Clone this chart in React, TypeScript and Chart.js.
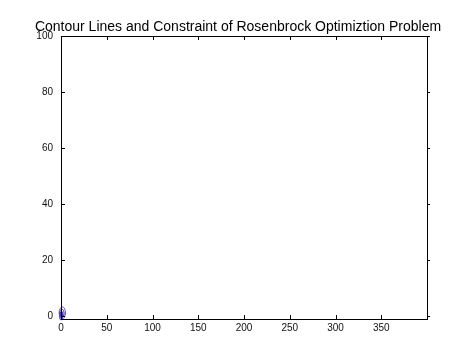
import React, { useEffect, useRef } from "react";
import { Chart, registerables } from "chart.js";

Chart.register(...registerables);

const TITLE = "Contour Lines and Constraint of Rosenbrock Optimiztion Problem";
const X_TICKS = [0, 50, 100, 150, 200, 250, 300, 350];
const Y_TICKS = [0, 20, 40, 60, 80, 100];

// Constraint circle x^2 + y^2 = 2 (approximate points)
const constraintX = [1.41, 1.0, 0, -1.0, -1.41, -1.0, 0, 1.0, 1.41];
const constraintY = [0, 1.0, 1.41, 1.0, 0, -1.0, -1.41, -1.0, 0];

// Rosenbrock contour loops near the minimum (read roughly from the small blob)
const contourAX = [5.0, 3.8, 1.5, -0.8, -2.0, -0.8, 1.5, 3.8, 5.0];
const contourAY = [1.2, 2.8, 3.3, 2.8, 1.2, -0.4, -0.9, -0.4, 1.2];
const contourBX = [3.5, 2.6, 1.0, -0.6, -1.5, -0.6, 1.0, 2.6, 3.5];
const contourBY = [1.0, 2.1, 2.5, 2.1, 1.0, -0.1, -0.5, -0.1, 1.0];
const contourCX = [2.2, 1.6, 0.6, -0.4, -1.0, -0.4, 0.6, 1.6, 2.2];
const contourCY = [0.8, 1.5, 1.8, 1.5, 0.8, 0.1, -0.2, 0.1, 0.8];

export default function App() {
  const ref = useRef<HTMLCanvasElement | null>(null);
  useEffect(() => {
    if (!ref.current) return;
    const mk = (xs: number[], ys: number[], color: string) => ({
      data: xs.map((x, i) => ({ x, y: ys[i] })),
      borderColor: color,
      borderWidth: 1,
      pointRadius: 0,
      showLine: true,
      fill: false,
      tension: 0.4,
      clip: false,
    });
    const frame = {
      id: "frame",
      afterDraw(chart: any) {
        const { ctx, chartArea: a } = chart;
        ctx.save();
        ctx.strokeStyle = "#000";
        ctx.lineWidth = 1;
        ctx.strokeRect(a.left + 0.5, a.top + 0.5, a.right - a.left, a.bottom - a.top);
        const xs = chart.scales.x;
        const ys = chart.scales.y;
        ctx.beginPath();
        X_TICKS.forEach((v) => {
          const px = Math.round(xs.getPixelForValue(v)) + 0.5;
          ctx.moveTo(px, a.top);
          ctx.lineTo(px, a.top + 4);
          ctx.moveTo(px, a.bottom);
          ctx.lineTo(px, a.bottom - 4);
        });
        Y_TICKS.forEach((v) => {
          const py = Math.round(ys.getPixelForValue(v)) + 0.5;
          ctx.moveTo(a.left, py);
          ctx.lineTo(a.left + 4, py);
          ctx.moveTo(a.right, py);
          ctx.lineTo(a.right + 3, py);
        });
        ctx.stroke();
        ctx.fillStyle = "#000";
        ctx.font = "14px 'Liberation Sans', Arial, sans-serif";
        ctx.textAlign = "center";
        ctx.textBaseline = "alphabetic";
        ctx.fillText(TITLE, (a.left + a.right) / 2 - 6, 31);
        ctx.restore();
      },
    };
    const chart = new Chart(ref.current, {
      type: "scatter",
      data: {
        datasets: [
          mk(contourAX, contourAY, "#5a4ab8"),
          mk(contourBX, contourBY, "#3a2ea0"),
          mk(contourCX, contourCY, "#2a2a90"),
          mk(constraintX, constraintY, "#1a1a80"),
        ],
      },
      plugins: [frame],
      options: {
        responsive: false,
        animation: false,
        layout: { padding: { left: 0, right: 47, top: 36, bottom: 0 } },
        plugins: {
          legend: { display: false },
          tooltip: { enabled: false },
          title: { display: false },
        },
        scales: {
          x: {
            type: "linear",
            min: 0,
            max: 400,
            afterBuildTicks: (s: any) => {
              s.ticks = X_TICKS.map((v) => ({ value: v }));
            },
            afterFit: (s: any) => {
              s.height = 36;
            },
            grid: { display: false, drawTicks: false },
            border: { display: false },
            ticks: {
              color: "#111",
              padding: 3,
              font: { family: "Liberation Sans, Arial", size: 10 },
            },
          },
          y: {
            type: "linear",
            min: -1,
            max: 100,
            afterBuildTicks: (s: any) => {
              s.ticks = Y_TICKS.map((v) => ({ value: v }));
            },
            afterFit: (s: any) => {
              s.width = 61;
            },
            grid: { display: false, drawTicks: false },
            border: { display: false },
            ticks: {
              color: "#111",
              padding: 8,
              font: { family: "Liberation Sans, Arial", size: 10 },
            },
          },
        },
      },
    } as any);
    return () => chart.destroy();
  }, []);
  return (
    <div style={{ position: "fixed", left: 0, top: 0, width: 474, height: 355, background: "#fff" }}>
      <canvas ref={ref} width={474} height={355} style={{ width: 474, height: 355 }} />
    </div>
  );
}
